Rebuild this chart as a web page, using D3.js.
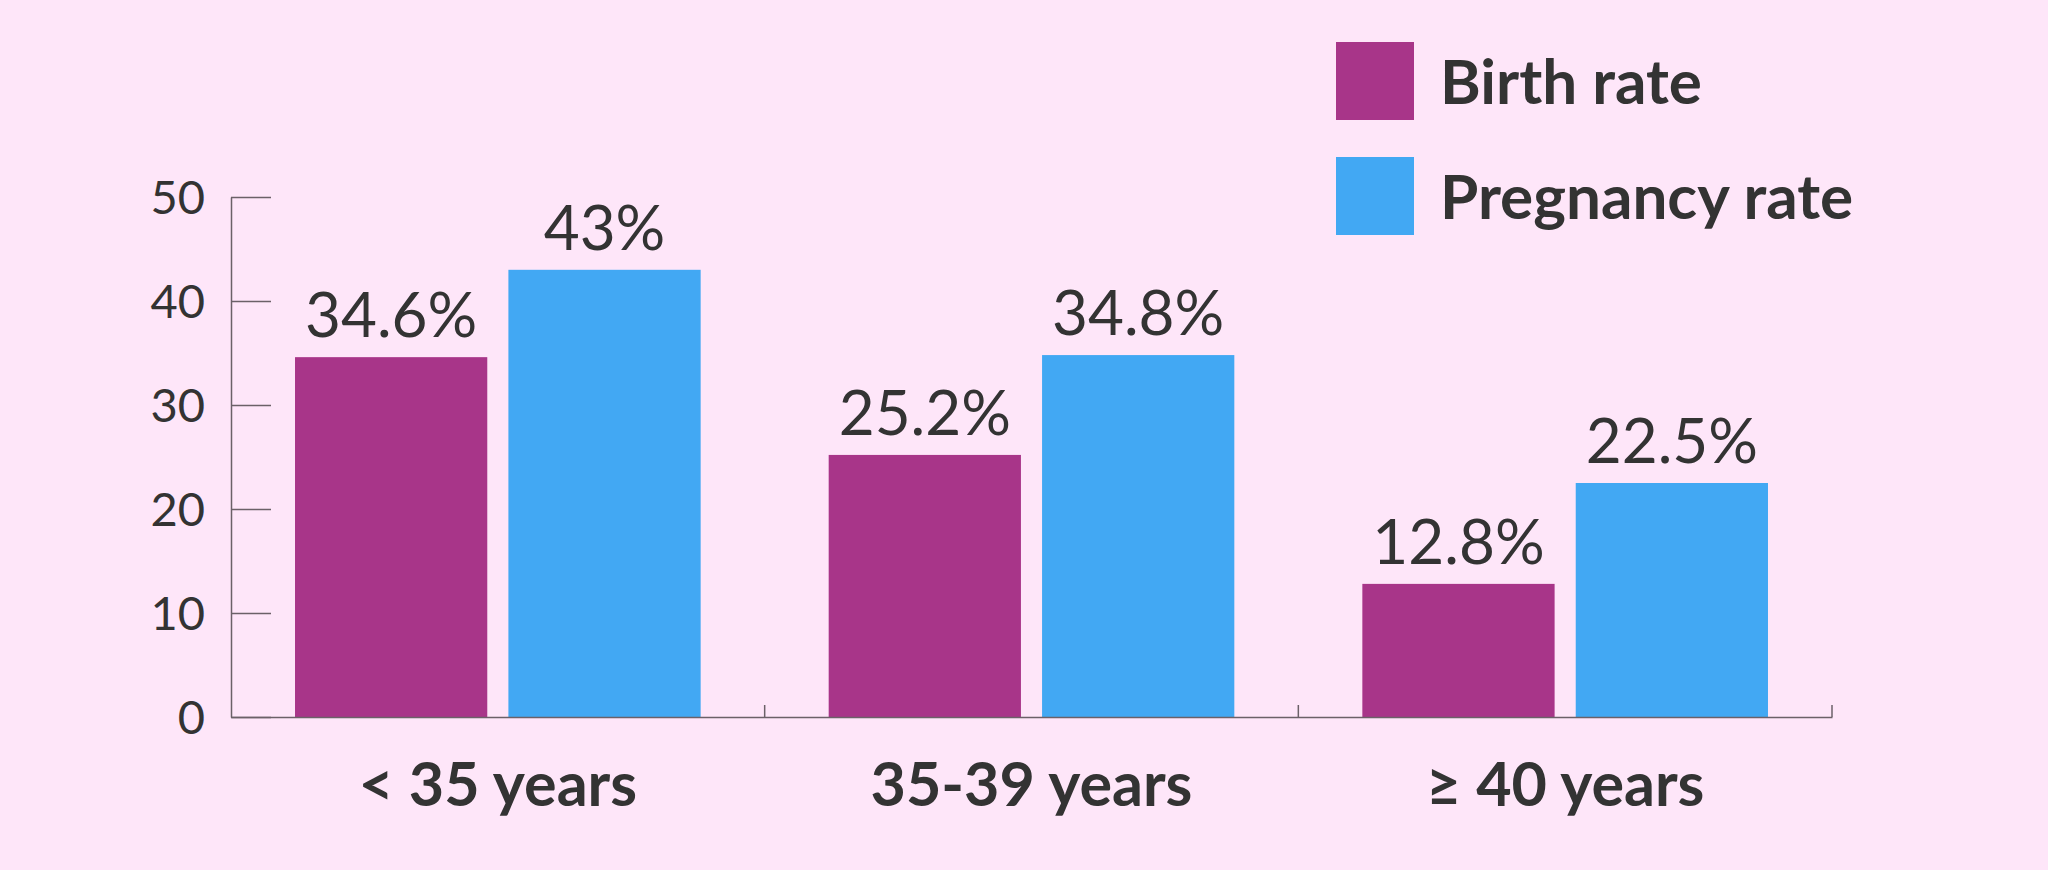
<!DOCTYPE html>
<html>
<head>
<meta charset="utf-8">
<script src="https://cdn.jsdelivr.net/npm/d3@7.9.0/dist/d3.min.js"></script>
<style>
  html, body { margin: 0; padding: 0; background: #fee6f9; }
  svg { display: block; }
  .tick-label, .value-label { font-family: Lato, "Noto Sans", sans-serif; fill: #333; }
  .cat-label, .legend-label { font-family: Lato, "Noto Sans", sans-serif; font-weight: 700; fill: #333; }
</style>
</head>
<body>
<div id="chart"></div>
<script>
// chart values
const categories = ['< 35 years', '35-39 years', '≥ 40 years'];
const series = ['Birth rate', 'Pregnancy rate'];
const birthRate = [34.6, 25.2, 12.8];
const pregnancyRate = [43, 34.8, 22.5];
const valueLabels = [['34.6%', '43%'], ['25.2%', '34.8%'], ['12.8%', '22.5%']];
const yTicks = [0, 10, 20, 30, 40, 50];

const colors = { 'Birth rate': '#a83589', 'Pregnancy rate': '#42a8f3' };

const width = 2048;
const height = 870;
const margin = { top: 197, right: 216, bottom: 153, left: 231 };
const usableArea = {
    top: margin.top,
    right: width - margin.right,
    bottom: height - margin.bottom,
    left: margin.left,
};

const rows = categories.map((c, i) => ({
    category: c,
    values: [
        { key: series[0], value: birthRate[i], label: valueLabels[i][0] },
        { key: series[1], value: pregnancyRate[i], label: valueLabels[i][1] },
    ],
}));

const svg = d3
    .select('#chart')
    .append('svg')
    .attr('width', width)
    .attr('height', height)
    .attr('viewBox', `0 0 ${width} ${height}`);

svg.append('rect')
    .attr('width', width)
    .attr('height', height)
    .attr('fill', '#fee6f9');

const x0 = d3
    .scaleBand()
    .domain(categories)
    .range([usableArea.left, usableArea.right])
    .padding(0);

const x1 = d3
    .scaleBand()
    .domain(series)
    .range([0, x0.bandwidth()])
    .paddingInner(0.099)
    .paddingOuter(0.3);

const yScale = d3
    .scaleLinear()
    .domain([0, 50])
    .range([usableArea.bottom, usableArea.top]);

// bars
const groups = svg
    .append('g')
    .attr('class', 'bars')
    .selectAll('g')
    .data(rows)
    .join('g')
    .attr('transform', (d) => `translate(${x0(d.category)},0)`);

groups
    .selectAll('rect')
    .data((d) => d.values)
    .join('rect')
    .attr('x', (d) => x1(d.key))
    .attr('y', (d) => yScale(d.value))
    .attr('width', x1.bandwidth())
    .attr('height', (d) => yScale(0) - yScale(d.value))
    .attr('fill', (d) => colors[d.key]);

groups
    .selectAll('text')
    .data((d) => d.values)
    .join('text')
    .attr('class', 'value-label')
    .attr('x', (d) => x1(d.key) + x1.bandwidth() / 2)
    .attr('y', (d) => yScale(d.value) - 20)
    .attr('text-anchor', 'middle')
    .attr('font-size', 62)
    .text((d) => d.label);

// y axis, ticks pointing inward
const yAxis = svg
    .append('g')
    .attr('transform', `translate(${usableArea.left},0)`)
    .call(
        d3.axisLeft(yScale)
            .tickValues(yTicks)
            .tickSize(-40)
            .tickSizeOuter(0)
            .tickPadding(26)
    );

yAxis.select('.domain').attr('stroke', '#6b6168').attr('stroke-width', 1.5);
yAxis.selectAll('.tick line').attr('stroke', '#6b6168').attr('stroke-width', 1.5);
yAxis.selectAll('.tick text')
    .attr('class', 'tick-label')
    .attr('font-size', 47)
    .attr('font-family', null)
    .attr('dy', '0.35em');

// x axis with labels under each group
const xAxis = svg
    .append('g')
    .attr('transform', `translate(0,${usableArea.bottom})`)
    .call(d3.axisBottom(x0).tickSize(0).tickSizeOuter(0).tickPadding(0));

xAxis.select('.domain').attr('stroke', '#6b6168').attr('stroke-width', 1.5);
xAxis.selectAll('.tick text')
    .attr('class', 'cat-label')
    .attr('font-size', 61)
    .attr('font-family', null)
    .attr('y', 89)
    .attr('dy', 0);

// small upward ticks at the group boundaries
svg.append('g')
    .selectAll('line')
    .data(categories)
    .join('line')
    .attr('x1', (d) => x0(d) + x0.step())
    .attr('x2', (d) => x0(d) + x0.step())
    .attr('y1', usableArea.bottom)
    .attr('y2', usableArea.bottom - 12)
    .attr('stroke', '#6b6168')
    .attr('stroke-width', 1.5);

// legend
const legend = svg
    .append('g')
    .attr('transform', 'translate(1336,42)')
    .selectAll('g')
    .data(series)
    .join('g')
    .attr('transform', (d, i) => `translate(0,${i * 115})`);

legend.append('rect')
    .attr('width', 78)
    .attr('height', 78)
    .attr('fill', (d) => colors[d]);

legend.append('text')
    .attr('class', 'legend-label')
    .attr('x', 104)
    .attr('y', 62)
    .attr('font-size', 62)
    .text((d) => d);
</script>
</body>
</html>
